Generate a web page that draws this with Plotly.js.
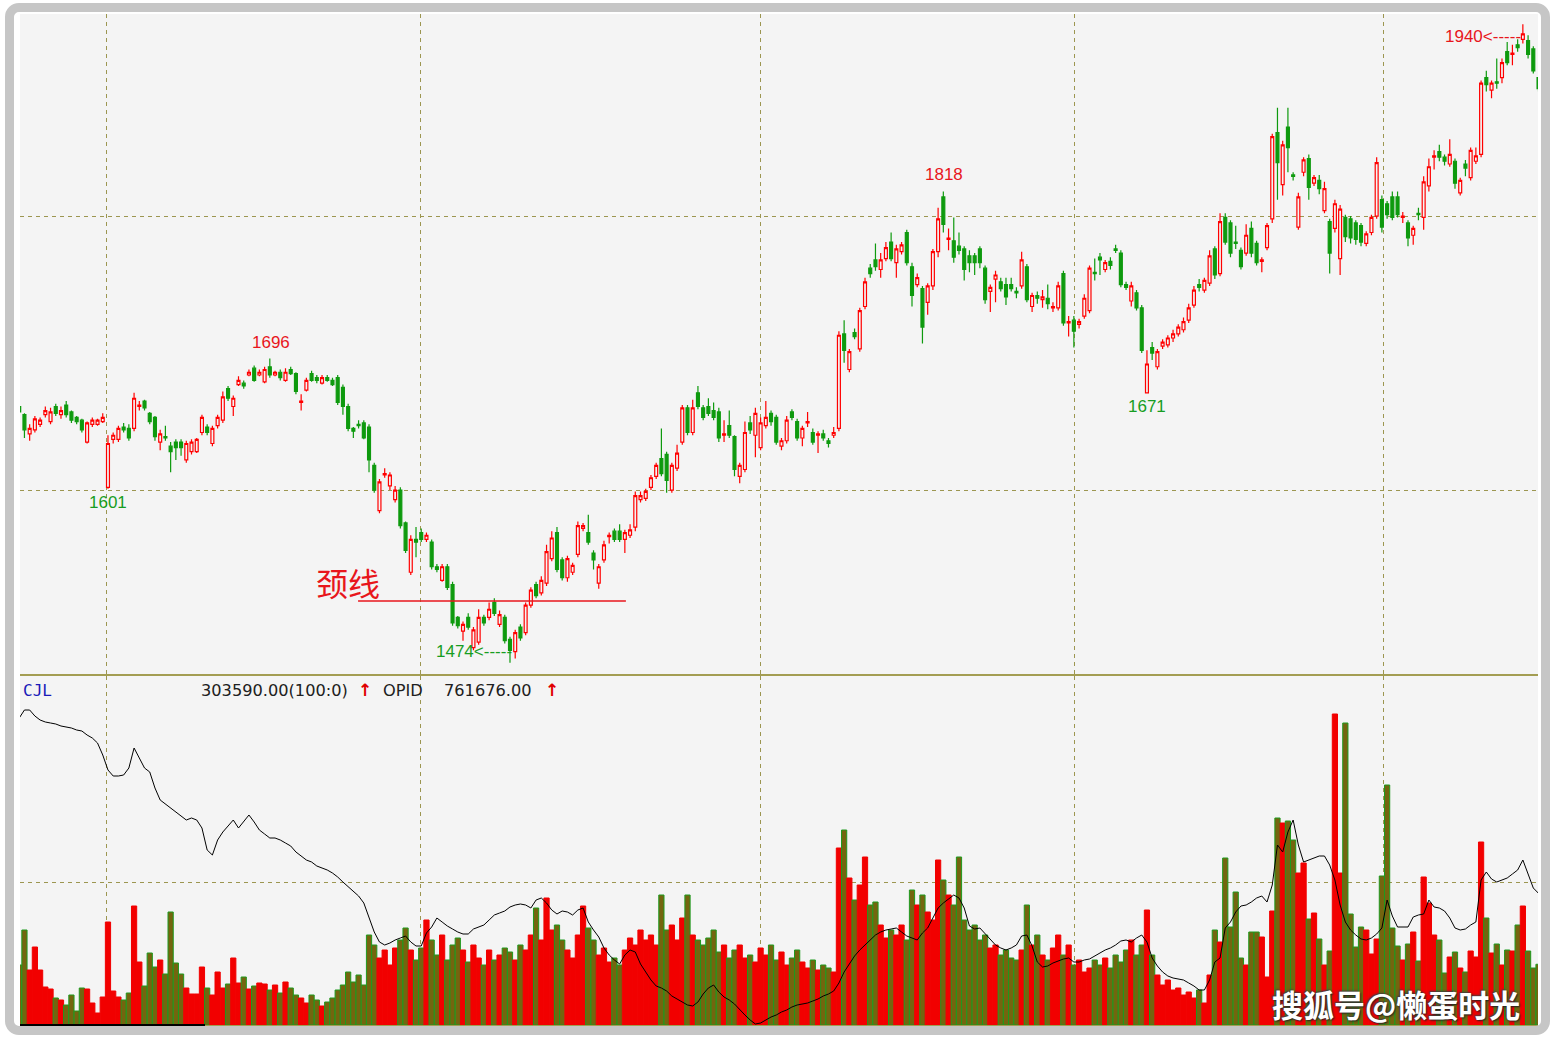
<!DOCTYPE html>
<html>
<head>
<meta charset="utf-8">
<script src="https://cdn.plot.ly/plotly-3.0.1.min.js"></script>
<style>
html,body{margin:0;padding:0;background:#ffffff;}
#wrap{position:relative;width:1559px;height:1039px;overflow:hidden;}
#chart{position:absolute;left:0;top:0;width:1559px;height:1039px;}
#frame{position:absolute;left:5px;top:3px;width:1545px;height:1032px;box-sizing:border-box;border:9px solid #c6c6c6;border-radius:14px;pointer-events:none;}
</style>
</head>
<body>
<div id="wrap"><div id="chart"></div><div id="frame"></div></div>
<script>
// ---- daily candles (price) ----
const open = [
1661,1655,1641,1644,1648,1655,1650,1661,1655,1662,
1657,1653,1651,1635,1648,1648,1650,1602,1637,1637,
1646,1645,1645,1661,1665,1656,1653,1635,1639,1632,
1635,1635,1622,1628,1628,1642,1646,1634,1647,1651,
1674,1661,1677,1678,1684,1689,1684,1679,1690,1684,
1686,1680,1688,1685,1664,1673,1685,1682,1678,1682,
1680,1682,1675,1661,1645,1648,1649,1646,1618,1585,
1611,1603,1593,1600,1576,1540,1564,1569,1564,1562,
1544,1534,1544,1531,1507,1497,1507,1485,1489,1507,
1507,1518,1502,1507,1491,1482,1500,1496,1516,1531,
1525,1532,1550,1569,1549,1536,1540,1553,1572,1569,
1554,1532,1549,1566,1570,1570,1564,1567,1573,1593,
1594,1602,1610,1623,1626,1600,1616,1635,1660,1642,
1671,1660,1661,1658,1657,1640,1647,1639,1610,1615,
1649,1640,1631,1647,1656,1653,1632,1636,1657,1650,
1638,1649,1642,1640,1641,1636,1640,1645,1714,1688,
1715,1703,1734,1762,1768,1761,1769,1781,1766,1774,
1788,1763,1750,1747,1737,1749,1774,1814,1783,1782,
1778,1776,1771,1771,1776,1762,1745,1754,1752,1750,
1750,1745,1749,1763,1734,1742,1739,1740,1733,1733,
1758,1722,1724,1721,1727,1731,1759,1770,1761,1767,
1776,1773,1750,1738,1744,1733,1671,1704,1690,1705,
1706,1711,1714,1717,1724,1735,1750,1746,1751,1776,
1758,1799,1795,1781,1775,1773,1791,1780,1767,1777,
1798,1861,1823,1865,1830,1792,1832,1842,1824,1826,
1804,1796,1791,1769,1799,1798,1795,1793,1780,1788,
1800,1812,1809,1814,1814,1799,1795,1786,1802,1799,
1822,1843,1847,1843,1838,1840,1817,1838,1828,1840,
1845,1901,1892,1898,1901,1920,1918,1925,1929,1928,
1922,1901];
const high = [
1664,1656,1648,1654,1653,1661,1660,1663,1661,1665,
1658,1654,1652,1650,1653,1652,1656,1640,1642,1647,
1649,1648,1671,1665,1666,1657,1654,1644,1647,1635,
1637,1637,1636,1637,1638,1655,1648,1647,1655,1672,
1676,1669,1683,1680,1688,1691,1688,1690,1696,1687,
1688,1689,1690,1686,1670,1682,1687,1684,1684,1684,
1682,1684,1677,1663,1646,1651,1651,1648,1620,1608,
1616,1613,1603,1602,1577,1567,1573,1572,1569,1564,
1546,1546,1546,1533,1508,1504,1510,1500,1513,1509,
1518,1521,1512,1509,1493,1498,1502,1518,1529,1533,
1537,1560,1570,1573,1551,1552,1547,1577,1576,1582,
1556,1546,1563,1569,1572,1575,1571,1575,1599,1599,
1601,1611,1620,1645,1628,1620,1633,1662,1662,1666,
1676,1662,1667,1664,1660,1651,1658,1640,1620,1650,
1654,1660,1653,1665,1658,1655,1638,1654,1659,1652,
1647,1657,1645,1643,1644,1638,1646,1716,1724,1703,
1718,1733,1755,1765,1780,1773,1781,1788,1779,1781,
1790,1766,1758,1749,1751,1776,1806,1818,1791,1799,
1788,1778,1775,1773,1778,1764,1750,1760,1755,1755,
1755,1748,1774,1765,1744,1745,1746,1750,1737,1752,
1760,1727,1727,1725,1743,1764,1769,1773,1768,1770,
1779,1775,1752,1752,1746,1735,1702,1708,1703,1710,
1713,1717,1721,1726,1736,1749,1754,1755,1775,1778,
1802,1802,1797,1793,1777,1794,1796,1782,1770,1795,
1860,1879,1855,1879,1832,1817,1843,1845,1830,1830,
1825,1798,1812,1808,1801,1800,1797,1795,1789,1801,
1843,1815,1811,1818,1818,1803,1797,1793,1806,1829,
1842,1848,1852,1845,1856,1842,1828,1841,1850,1850,
1899,1906,1899,1915,1915,1927,1925,1929,1940,1932,
1924,1901];
const low = [
1655,1638,1636,1642,1646,1653,1648,1654,1652,1653,
1649,1648,1642,1634,1646,1647,1649,1601,1634,1635,
1642,1636,1643,1658,1658,1648,1636,1629,1636,1613,
1622,1625,1620,1626,1627,1640,1640,1632,1645,1649,
1665,1654,1676,1674,1683,1679,1683,1678,1682,1683,
1680,1679,1684,1670,1658,1672,1679,1678,1677,1679,
1676,1662,1655,1643,1638,1645,1637,1613,1598,1583,
1609,1600,1591,1572,1554,1538,1551,1562,1562,1542,
1540,1533,1527,1501,1499,1490,1498,1483,1487,1501,
1505,1508,1500,1488,1474,1477,1490,1494,1514,1521,
1523,1530,1548,1540,1534,1533,1538,1551,1570,1560,
1542,1528,1547,1561,1562,1562,1554,1565,1570,1591,
1592,1600,1608,1610,1598,1598,1614,1633,1640,1640,
1659,1651,1654,1651,1635,1635,1638,1610,1605,1613,
1641,1624,1629,1645,1647,1633,1629,1634,1651,1636,
1632,1646,1633,1627,1636,1631,1638,1643,1693,1686,
1710,1701,1732,1755,1760,1755,1767,1767,1755,1772,
1764,1734,1748,1707,1728,1746,1770,1788,1775,1766,
1772,1753,1759,1757,1762,1736,1730,1737,1745,1735,
1745,1740,1747,1737,1730,1736,1733,1732,1730,1731,
1720,1712,1704,1718,1725,1729,1753,1757,1759,1761,
1773,1748,1746,1734,1731,1700,1671,1695,1688,1703,
1704,1708,1712,1715,1722,1733,1745,1744,1749,1754,
1756,1779,1770,1776,1761,1771,1770,1764,1759,1775,
1795,1812,1815,1832,1826,1790,1829,1812,1822,1816,
1802,1758,1788,1757,1781,1780,1779,1778,1778,1786,
1798,1788,1798,1797,1799,1795,1778,1779,1797,1790,
1818,1834,1840,1837,1836,1820,1815,1829,1826,1838,
1843,1891,1886,1893,1897,1910,1910,1920,1926,1915,
1904,1891];
const close = [
1657,1644,1645,1652,1651,1658,1657,1656,1658,1655,
1651,1650,1644,1649,1651,1651,1653,1634,1640,1645,
1644,1638,1667,1662,1660,1650,1639,1641,1638,1628,
1631,1631,1634,1635,1637,1653,1642,1645,1653,1668,
1667,1667,1680,1676,1686,1680,1686,1688,1684,1686,
1682,1686,1685,1672,1665,1680,1680,1680,1682,1680,
1677,1664,1661,1645,1643,1647,1638,1622,1600,1606,
1612,1611,1600,1574,1556,1564,1562,1564,1567,1544,
1542,1544,1529,1503,1501,1502,1500,1498,1507,1503,
1513,1510,1509,1490,1483,1496,1492,1516,1527,1523,
1534,1555,1565,1542,1536,1550,1545,1574,1574,1562,
1549,1544,1560,1567,1564,1564,1569,1571,1596,1596,
1599,1609,1618,1612,1607,1618,1627,1660,1642,1660,
1661,1653,1656,1653,1638,1641,1640,1615,1618,1642,
1644,1656,1649,1653,1650,1635,1636,1651,1653,1638,
1645,1650,1635,1641,1638,1634,1642,1713,1702,1701,
1712,1731,1752,1758,1763,1768,1777,1769,1776,1779,
1766,1742,1755,1719,1749,1774,1798,1794,1784,1770,
1775,1761,1766,1766,1766,1739,1748,1757,1747,1741,
1747,1744,1768,1739,1742,1740,1741,1736,1734,1749,
1722,1723,1716,1723,1740,1762,1758,1768,1766,1764,
1775,1750,1748,1749,1733,1702,1692,1700,1701,1708,
1711,1714,1719,1723,1733,1746,1748,1753,1771,1757,
1796,1781,1773,1780,1763,1786,1773,1766,1768,1793,
1858,1839,1852,1850,1829,1814,1841,1821,1828,1820,
1820,1773,1809,1805,1785,1784,1783,1781,1787,1799,
1839,1792,1801,1799,1801,1800,1784,1791,1801,1825,
1836,1844,1843,1840,1845,1824,1826,1835,1848,1844,
1897,1896,1897,1897,1912,1912,1919,1923,1933,1918,
1906,1893];

// ---- volume (CJL, thousand lots) ----
const volume = [
300,475,275,390,275,190,180,135,125,100,
150,70,185,180,110,60,140,515,170,140,
125,160,595,315,195,360,290,325,255,565,
310,255,185,155,155,290,185,150,265,185,
205,335,210,240,180,195,210,205,175,200,
160,215,185,150,135,110,150,125,95,115,
135,175,200,265,215,250,200,450,400,335,
375,300,385,425,485,375,325,385,525,425,
350,450,325,400,435,375,315,400,335,300,
375,325,350,385,365,325,400,375,450,585,
425,635,475,500,425,375,335,450,595,485,
425,350,385,315,335,300,375,435,400,475,
425,450,400,650,475,500,425,535,650,450,
425,400,435,475,365,400,335,375,400,335,
350,315,385,350,400,325,365,300,335,375,
315,285,325,275,300,285,265,885,975,735,
625,700,840,600,615,500,435,475,450,500,
425,675,600,650,565,525,825,725,650,600,
840,525,475,500,425,450,385,400,350,375,
335,325,375,600,400,450,350,325,385,450,
350,400,300,325,265,285,325,300,335,285,
350,315,375,425,350,400,575,350,250,200,
225,175,185,150,165,135,175,110,250,475,
415,835,490,665,335,300,465,465,440,240,
570,1035,1010,1020,925,760,810,530,560,430,
300,370,1555,760,1510,555,390,490,475,355,
430,745,1200,485,395,325,405,465,320,740,
610,450,425,260,340,365,285,265,370,340,
915,535,360,405,300,375,370,500,595,370,
285,303.59];

// ---- open interest (OPID, thousand lots) ----
const openInterest = [
937,945,945,939,935,933,932,931,929,928,
927,925,924,920,917,912,900,885,879,879,
880,887,907,897,887,883,867,855,851,847,
843,839,835,837,835,827,805,800,815,823,
829,835,827,833,840,833,825,821,817,817,
815,812,809,803,799,795,793,789,787,785,
782,778,773,768,763,759,752,737,723,713,
710,712,715,717,719,713,709,709,722,728,
737,733,729,726,723,721,721,726,728,730,
735,740,742,744,748,750,751,750,747,755,
757,752,745,741,744,743,740,745,747,733,
725,718,707,700,695,691,700,705,703,691,
683,675,669,667,664,659,656,653,650,649,
653,661,667,670,663,658,655,651,645,640,
635,631,632,635,638,640,643,645,648,650,
651,652,654,656,659,661,664,672,683,691,
699,705,710,715,720,723,725,726,727,723,
719,717,715,722,727,737,747,752,756,760,
757,747,729,726,727,721,715,710,707,705,
707,710,719,720,709,693,688,689,692,694,
696,697,693,693,695,696,699,702,705,707,
710,714,715,713,717,720,713,697,689,683,
679,677,676,675,672,669,665,665,675,693,
697,727,733,743,749,750,753,757,759,753,
770,810,803,823,835,810,793,795,797,799,
799,790,775,750,733,725,720,716,715,717,
721,727,755,739,728,728,728,738,740,741,
755,748,747,744,737,727,725,726,730,733,
775,783,776,773,775,777,781,785,795,780,
767,761.676];

// marked extremes and neckline
const markedHighs = [1696, 1818];
const markedLows = [1601, 1671];
const necklinePrice = 1519;
const necklineSpan = [64.9, 116.2];

const n = open.length;
[high, low, close, volume, openInterest].forEach((a, k) => {
  if (a.length !== n) throw new Error('length mismatch in array ' + k + ': ' + a.length + ' vs ' + n);
});

const RED = '#ff0000', GREEN = '#0e9a0e', GRID = '#9c9650';
const LRED = '#e8161c', LGREEN = '#179d22';
const idx = open.map((_, i) => i);
const up = close.map((c, i) => c >= open[i]);

const traces = [
  {
    type: 'candlestick', x: idx, open: open, high: high, low: low, close: close,
    xaxis: 'x', yaxis: 'y',
    increasing: {line: {color: RED, width: 1.2}, fillcolor: '#f4f4f4'},
    decreasing: {line: {color: GREEN, width: 1.2}, fillcolor: GREEN},
    whiskerwidth: 0, hoverinfo: 'skip', showlegend: false
  },
  {
    type: 'bar', x: idx, y: volume, xaxis: 'x', yaxis: 'y2', width: 1,
    marker: {
      color: up.map(u => u ? '#f20000' : '#74650f'),
      line: {color: up.map(u => u ? '#f20000' : '#1e9a1e'), width: 1}
    },
    hoverinfo: 'skip', showlegend: false
  },
  {
    type: 'scatter', mode: 'lines', x: idx, y: openInterest, xaxis: 'x', yaxis: 'y3',
    line: {color: '#000000', width: 1}, hoverinfo: 'skip', showlegend: false
  }
];

const labelFont = (c) => ({family: 'Liberation Sans, Arial, sans-serif', size: 17, color: c});
const annotations = [];
markedHighs.forEach(v => {
  const i = high.indexOf(v);
  annotations.push({x: i, y: v, xref: 'x', yref: 'y', text: String(v), showarrow: false,
    xanchor: 'center', yanchor: 'middle', yshift: 16.5, xshift: 1, font: labelFont(LRED)});
});
markedLows.forEach(v => {
  const i = low.indexOf(v);
  annotations.push({x: i, y: v, xref: 'x', yref: 'y', text: String(v), showarrow: false,
    xanchor: 'center', yanchor: 'middle', yshift: -13.5, xshift: 0, font: labelFont(LGREEN)});
});
const hiMax = Math.max(...high), loMin = Math.min(...low);
annotations.push({x: high.indexOf(hiMax), y: hiMax, xref: 'x', yref: 'y', text: hiMax + '&lt;-----',
  showarrow: false, xanchor: 'right', yanchor: 'middle', yshift: -12, xshift: 0, font: labelFont(LRED)});
annotations.push({x: low.indexOf(loMin), y: loMin, xref: 'x', yref: 'y', text: loMin + '&lt;-----',
  showarrow: false, xanchor: 'right', yanchor: 'middle', yshift: 11.5, xshift: 4, font: labelFont(LGREEN)});
annotations.push({x: necklineSpan[0], y: necklinePrice, xref: 'x', yref: 'y', text: '颈线', showarrow: false,
  xanchor: 'center', yanchor: 'middle', xshift: -10, yshift: 19,
  font: {family: 'Noto Sans CJK SC, sans-serif', size: 32, color: LRED}});

// indicator header line
const hy = (1025 - 690) / 1011;
const px = (v) => (v - 20) / 1518;
const hdrFont = (c) => ({family: 'DejaVu Sans, sans-serif', size: 16.2, color: c});
const arrowFont = {family: 'DejaVu Sans, sans-serif', size: 17, weight: 700, color: '#e00000'};
const lastVol = (volume[n - 1] * 1000).toFixed(2);
const lastOI = (openInterest[n - 1] * 1000).toFixed(2);
annotations.push({x: px(21), y: hy, xref: 'paper', yref: 'paper', text: 'CJL', showarrow: false, xanchor: 'left', yanchor: 'middle', font: {family: 'DejaVu Sans Mono, monospace', size: 16, color: '#1a1ab8'}});
annotations.push({x: px(199), y: hy, xref: 'paper', yref: 'paper', text: lastVol + '(100:0)', showarrow: false, xanchor: 'left', yanchor: 'middle', font: hdrFont('#202020')});
annotations.push({x: px(356), y: hy, xref: 'paper', yref: 'paper', text: '↑', showarrow: false, xanchor: 'left', yanchor: 'middle', font: arrowFont});
annotations.push({x: px(381), y: hy, xref: 'paper', yref: 'paper', text: 'OPID', showarrow: false, xanchor: 'left', yanchor: 'middle', font: hdrFont('#202020')});
annotations.push({x: px(442), y: hy, xref: 'paper', yref: 'paper', text: lastOI, showarrow: false, xanchor: 'left', yanchor: 'middle', font: hdrFont('#202020')});
annotations.push({x: px(543), y: hy, xref: 'paper', yref: 'paper', text: '↑', showarrow: false, xanchor: 'left', yanchor: 'middle', font: arrowFont});

// watermark
annotations.push({x: px(1522), y: (1025 - 1003) / 1011, xref: 'paper', yref: 'paper', text: '搜狐号@懒蛋时光',
  showarrow: false, xanchor: 'right', yanchor: 'middle',
  font: {family: 'Noto Sans CJK SC, sans-serif', size: 31, weight: 700, color: '#ffffff',
         shadow: '1px 1px 2px #202020, -1px -1px 2px #404040'}});

const sepY = (1025 - 675) / 1011;
const shapes = [
  {type: 'line', xref: 'x', yref: 'y', x0: necklineSpan[0], x1: necklineSpan[1], y0: necklinePrice, y1: necklinePrice,
   line: {color: LRED, width: 1.5}},
  {type: 'line', xref: 'paper', yref: 'paper', x0: 0, x1: 1, y0: sepY, y1: sepY, line: {color: '#a39d52', width: 2}},
  {type: 'line', xref: 'paper', yref: 'paper', x0: 0, x1: px(205), y0: 0, y1: 0, line: {color: '#000000', width: 2}}
];

const gridCommon = {showticklabels: false, ticks: '', showgrid: true, gridcolor: GRID, gridwidth: 1,
  griddash: '4px,4px', zeroline: false, showline: false, fixedrange: true};

const layout = {
  width: 1559, height: 1039,
  margin: {l: 20, r: 21, t: 14, b: 14},
  paper_bgcolor: '#ffffff', plot_bgcolor: '#f4f4f4',
  showlegend: false, hovermode: false, boxgap: 0.2, bargap: 0,
  xaxis: Object.assign({}, gridCommon, {range: [0.15, 290.9], anchor: 'y2',
    rangeslider: {visible: false}, tickmode: 'array', tickvals: [16.8, 76.8, 141.9, 202.2, 261.4],
    showline: true, linecolor: '#a39d52', linewidth: 2}),
  yaxis: Object.assign({}, gridCommon, {domain: [sepY, 1], range: [1465.0, 1947.5], tickmode: 'array', tickvals: [1600, 1800], anchor: 'x'}),
  yaxis2: Object.assign({}, gridCommon, {domain: [0, (1025 - 676) / 1011], range: [0, 1745], tickmode: 'array', tickvals: [715], anchor: 'x'}),
  yaxis3: {overlaying: 'y2', anchor: 'x', range: [630, 979], showgrid: false, showticklabels: false, ticks: '', zeroline: false, showline: false, fixedrange: true},
  annotations: annotations,
  shapes: shapes
};

Plotly.newPlot('chart', traces, layout, {displayModeBar: false, staticPlot: true});
</script>
</body>
</html>
